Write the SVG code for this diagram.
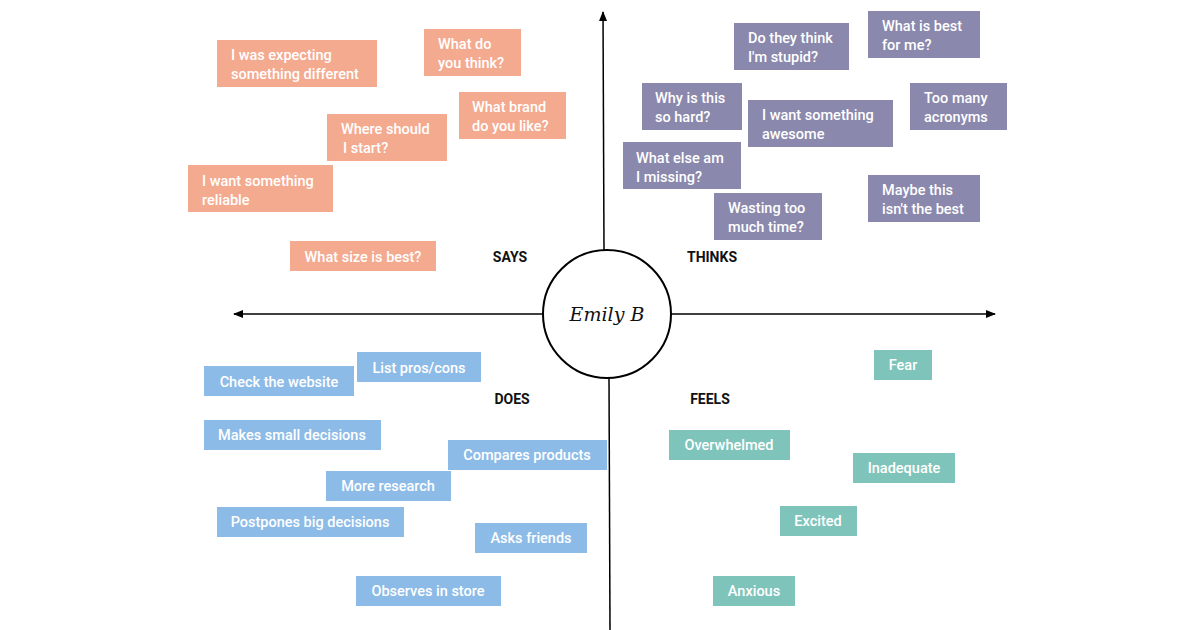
<svg xmlns="http://www.w3.org/2000/svg" width="1200" height="630" viewBox="0 0 1200 630">
<defs>
<marker id="ar" markerWidth="10" markerHeight="10" refX="9" refY="5" orient="auto" markerUnits="userSpaceOnUse"><path d="M0,1 L10,5 L0,9 Z" fill="#000"/></marker>
<style>
.s{fill:#F4AA8F}.t{fill:#8A88AD}.d{fill:#8CBBE7}.f{fill:#7FC4BB}
text{font-family:Roboto,"Liberation Sans",sans-serif;font-size:14.5px;font-weight:500;fill:#fff}
.c{text-anchor:middle}
.lab{fill:#111;font-weight:700;font-size:14px;text-anchor:middle}
.ax{stroke:#000;stroke-width:1.5;fill:none}
</style>
</defs>
<rect width="1200" height="630" fill="#fff"/>
<g id="connectors">
<path class="ax" d="M604,250 L603,12" marker-end="url(#ar)"/>
<path class="ax" d="M609,378 L610,630"/>
<path class="ax" d="M543,314 L234,314" marker-end="url(#ar)"/>
<path class="ax" d="M671,314 L995,314" marker-end="url(#ar)"/>
</g>
<g id="center"><circle cx="607" cy="314" r="64" fill="#fff" stroke="#000" stroke-width="2"/>
<text x="607" y="321" class="c" style="fill:#111;font-family:'DejaVu Serif',serif;font-style:italic;font-weight:400;font-size:19px">Emily B</text></g>
<g id="labels"><text class="lab" x="510" y="262">SAYS</text><text class="lab" x="712" y="262">THINKS</text><text class="lab" x="512" y="404">DOES</text><text class="lab" x="710" y="404">FEELS</text></g>
<g id="s1"><rect class="s" x="217" y="40" width="160" height="47"/><text x="231" y="60">I was expecting</text><text x="231" y="79">something different</text></g>
<g id="s2"><rect class="s" x="424" y="29" width="97" height="47"/><text x="438" y="49">What do</text><text x="438" y="68">you think?</text></g>
<g id="s3"><rect class="s" x="459" y="92" width="107" height="47"/><text x="472" y="112">What brand</text><text x="472" y="131">do you like?</text></g>
<g id="s4"><rect class="s" x="327" y="114" width="120" height="47"/><text x="341" y="134">Where should</text><text x="343" y="153">I start?</text></g>
<g id="s5"><rect class="s" x="188" y="165" width="145" height="47"/><text x="202" y="186">I want something</text><text x="202" y="205">reliable</text></g>
<g id="s6"><rect class="s" x="290" y="241" width="146" height="30"/><text class="c" x="363" y="262">What size is best?</text></g>
<g id="t1"><rect class="t" x="734" y="23" width="115" height="47"/><text x="748" y="43">Do they think</text><text x="748" y="62">I'm stupid?</text></g>
<g id="t2"><rect class="t" x="868" y="11" width="112" height="47"/><text x="882" y="31">What is best</text><text x="882" y="50">for me?</text></g>
<g id="t3"><rect class="t" x="642" y="83" width="100" height="47"/><text x="655" y="103">Why is this</text><text x="655" y="122">so hard?</text></g>
<g id="t4"><rect class="t" x="748" y="100" width="145" height="47"/><text x="762" y="120">I want something</text><text x="762" y="139">awesome</text></g>
<g id="t5"><rect class="t" x="910" y="83" width="97" height="47"/><text x="924" y="103">Too many</text><text x="924" y="122">acronyms</text></g>
<g id="t6"><rect class="t" x="623" y="142" width="118" height="47"/><text x="636" y="163">What else am</text><text x="636" y="182">I missing?</text></g>
<g id="t7"><rect class="t" x="714" y="193" width="108" height="47"/><text x="728" y="213">Wasting too</text><text x="728" y="232">much time?</text></g>
<g id="t8"><rect class="t" x="868" y="175" width="112" height="47"/><text x="882" y="195">Maybe this</text><text x="882" y="214">isn't the best</text></g>
<g id="d1"><rect class="d" x="204" y="366" width="150" height="30"/><text class="c" x="279" y="387">Check the website</text></g>
<g id="d2"><rect class="d" x="357" y="352" width="124" height="30"/><text class="c" x="419" y="373">List pros/cons</text></g>
<g id="d3"><rect class="d" x="204" y="420" width="177" height="30"/><text class="c" x="292" y="440">Makes small decisions</text></g>
<g id="d4"><rect class="d" x="448" y="440" width="159" height="30"/><text class="c" x="527" y="460">Compares products</text></g>
<g id="d5"><rect class="d" x="326" y="471" width="125" height="30"/><text class="c" x="388" y="491">More research</text></g>
<g id="d6"><rect class="d" x="217" y="507" width="187" height="30"/><text class="c" x="310" y="527">Postpones big decisions</text></g>
<g id="d7"><rect class="d" x="475" y="523" width="112" height="30"/><text class="c" x="531" y="543">Asks friends</text></g>
<g id="d8"><rect class="d" x="356" y="576" width="145" height="30"/><text class="c" x="428" y="596">Observes in store</text></g>
<g id="f1"><rect class="f" x="874" y="350" width="58" height="30"/><text class="c" x="903" y="370">Fear</text></g>
<g id="f2"><rect class="f" x="669" y="430" width="121" height="30"/><text class="c" x="729" y="450">Overwhelmed</text></g>
<g id="f3"><rect class="f" x="853" y="453" width="102" height="30"/><text class="c" x="904" y="473">Inadequate</text></g>
<g id="f4"><rect class="f" x="780" y="506" width="77" height="30"/><text class="c" x="818" y="526">Excited</text></g>
<g id="f5"><rect class="f" x="713" y="576" width="82" height="30"/><text class="c" x="754" y="596">Anxious</text></g>
</svg>
